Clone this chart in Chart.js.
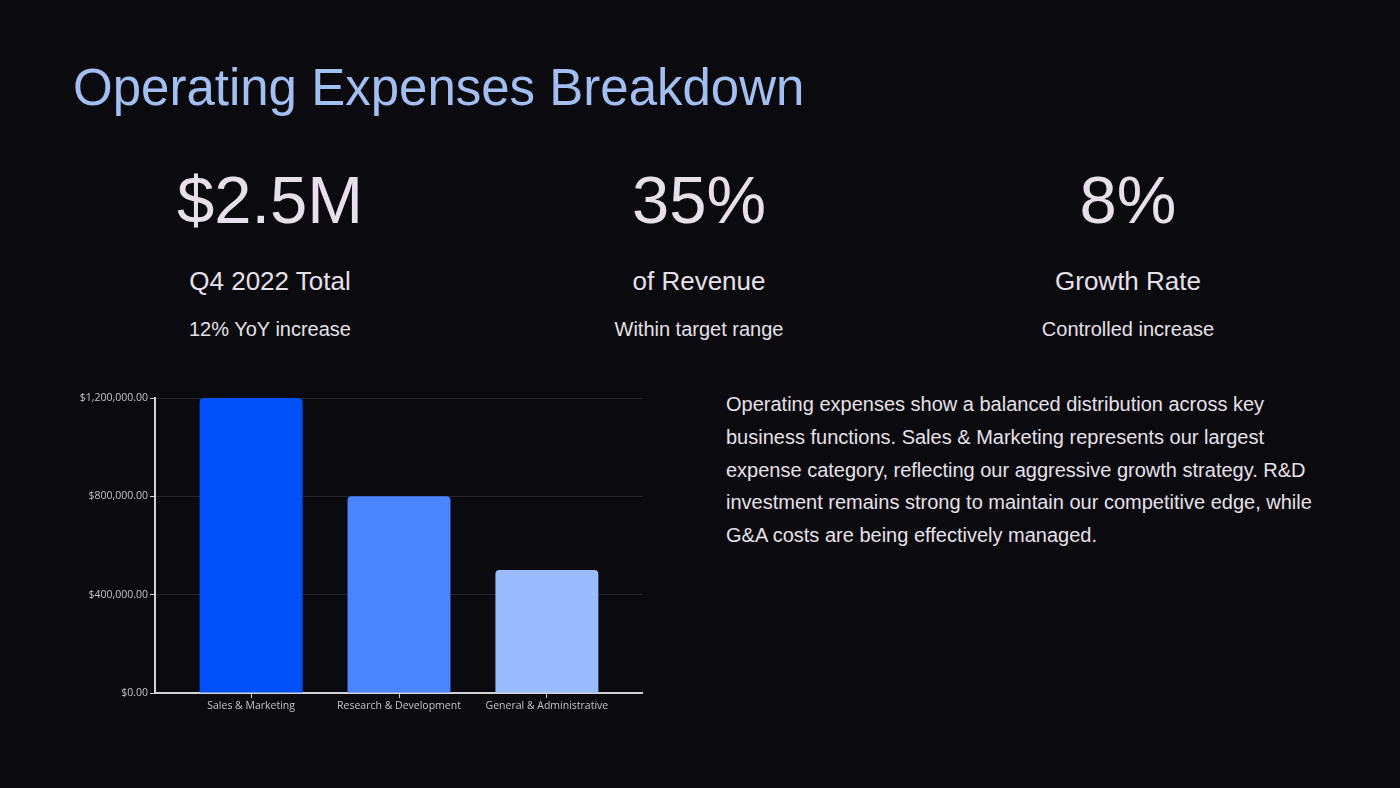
<!DOCTYPE html>
<html>
<head>
<meta charset="utf-8">
<script src="https://cdn.jsdelivr.net/npm/chart.js@4"></script>
<style>
  html, body { margin:0; padding:0; }
  body {
    width:1400px; height:788px; overflow:hidden; position:relative;
    background:#0b0b0f; color:#e7e0ea;
    font-family:"Liberation Sans", Arial, sans-serif;
  }
  .title {
    position:absolute; left:73px; top:62px; margin:0;
    font-size:51px; line-height:1; font-weight:400; color:#a3bff2;
  }
  .kpi { position:absolute; width:400px; text-align:center; }
  .kpi .big { position:absolute; left:0; right:0; top:166px; font-size:67px; line-height:1; }
  .kpi .lbl { position:absolute; left:0; right:0; top:268px; font-size:26px; line-height:1; }
  .kpi .sub { position:absolute; left:0; right:0; top:319px; font-size:20px; line-height:1; }
  .desc {
    position:absolute; left:726px; top:388px; width:600px; margin:0;
    font-size:20px; line-height:32.75px; color:#e7e0ea;
  }
  #wrap { position:absolute; left:55px; top:388px; width:588px; height:335px; }
</style>
</head>
<body>
<h1 class="title">Operating Expenses Breakdown</h1>
<div id="kpis"></div>
<p class="desc">Operating expenses show a balanced distribution across key business functions. Sales &amp; Marketing represents our largest expense category, reflecting our aggressive growth strategy. R&amp;D investment remains strong to maintain our competitive edge, while G&amp;A costs are being effectively managed.</p>
<div id="wrap"><canvas id="chart"></canvas></div>

<script>
// kpi cards
const kpiValues = ["$2.5M", "35%", "8%"];
const kpiLabels = ["Q4 2022 Total", "of Revenue", "Growth Rate"];
const kpiNotes  = ["12% YoY increase", "Within target range", "Controlled increase"];

// chart data
const categories = ["Sales & Marketing", "Research & Development", "General & Administrative"];
const expenses   = [1200000, 800000, 500000];
const barColors  = ["#0050fa", "#4a84ff", "#9bbbff"];

const el = (id) => document.getElementById(id);

const centers = [270, 699, 1128];
kpiValues.forEach((v, i) => {
  el("kpis").insertAdjacentHTML("beforeend", `
    <div class="kpi" style="left:${centers[i]-200}px;">
      <div class="big">${v}</div>
      <div class="lbl">${kpiLabels[i]}</div>
      <div class="sub">${kpiNotes[i]}</div>
    </div>`);
});

const money = (v) => v.toLocaleString("en-US", { style:"currency", currency:"USD" });

new Chart(el("chart").getContext("2d"), {
  type: "bar",
  data: {
    datasets: [{
      data: expenses.map((v, i) => ({ x: i, y: v })),
      backgroundColor: barColors,
      borderRadius: 4,
      borderSkipped: "bottom",
      barPercentage: 0.87,
      categoryPercentage: 0.8
    }]
  },
  options: {
    responsive: true,
    maintainAspectRatio: false,
    animation: false,
    layout: { padding: { top: 10, right: 0, left: 0, bottom: 0 } },
    plugins: { legend: { display: false }, tooltip: { enabled: false } },
    scales: {
      x: {
        type: "linear",
        offset: false,
        min: -0.65,
        max: 2.65,
        afterBuildTicks: (s) => { s.ticks = categories.map((c, i) => ({ value: i })); },
        afterFit: (s) => { s.height = 30; },
        ticks: {
          autoSkip: false,
          maxRotation: 0,
          padding: 2,
          color: "#c4c4c8",
          font: { family: "'Open Sans'", size: 10.5 },
          callback: (v) => categories[v] ?? ""
        },
        grid: { offset: false, drawOnChartArea: false, drawTicks: true, tickLength: 5, tickColor: "#cfcfd3" },
        border: { display: true, color: "#d4d4d8", width: 2 }
      },
      y: {
        min: 0,
        max: 1200000,
        afterFit: (s) => { s.width = 100; },
        ticks: {
          stepSize: 400000,
          padding: 2,
          color: "#c4c4c8",
          font: { family: "'Open Sans'", size: 10.5 },
          callback: (v) => money(v)
        },
        grid: { color: "#26262c", tickLength: 5, tickColor: "#cfcfd3", lineWidth: 1 },
        border: { display: true, color: "#d4d4d8", width: 2 }
      }
    }
  }
});
</script>
</body>
</html>
